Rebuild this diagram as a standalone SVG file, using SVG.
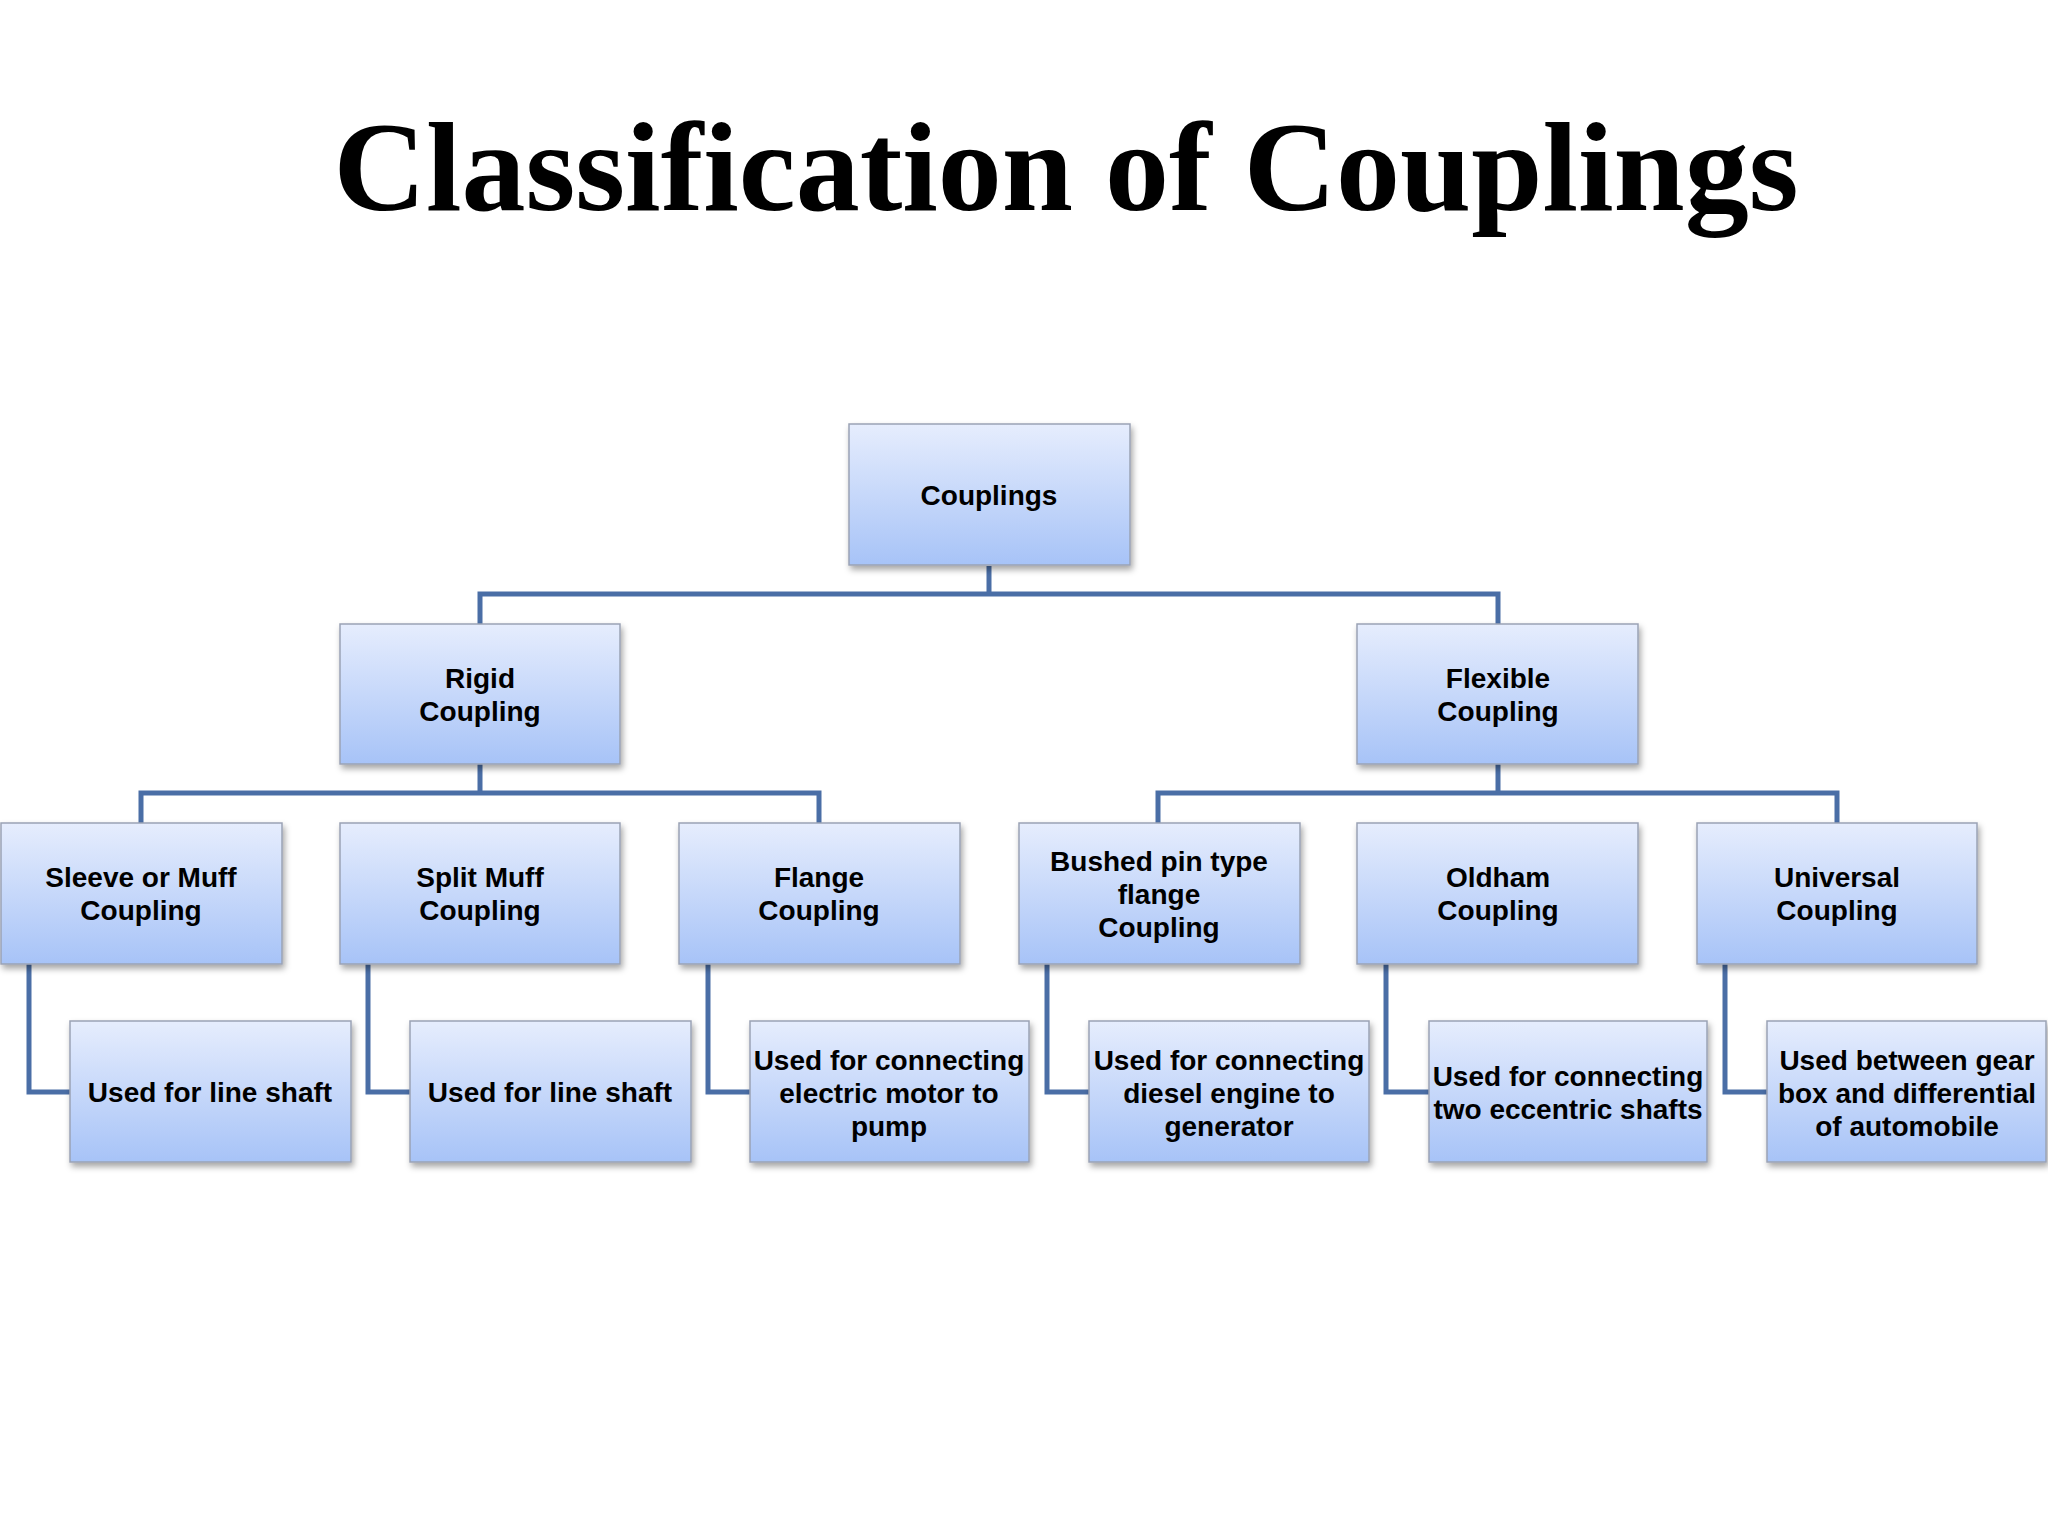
<svg xmlns="http://www.w3.org/2000/svg" width="2048" height="1536" viewBox="0 0 2048 1536">
<defs>
<linearGradient id="g" x1="0" y1="0" x2="0" y2="1"><stop offset="0" stop-color="#e6edfd"/><stop offset="1" stop-color="#a7c3f7"/></linearGradient>
<filter id="sh" x="-10%" y="-10%" width="130%" height="130%"><feDropShadow dx="2" dy="4" stdDeviation="3" flood-color="#000" flood-opacity="0.35"/></filter>
</defs>
<style>
rect.b{fill:url(#g);stroke:#9aa3b5;stroke-width:1.5;filter:url(#sh)}
text{font-family:"Liberation Sans",Arial,sans-serif;font-weight:bold;font-size:28px;fill:#000;text-anchor:middle}
.c{fill:none;stroke:#4a6ea6;stroke-width:5}
</style>
<rect width="2048" height="1536" fill="#fff"/>
<text x="1066" y="210" style="font-family:'Liberation Serif','Times New Roman',serif;font-size:128px">Classification of Couplings</text>
<g id="connectors">
<path class="c" d="M989 566V594M480 624V594H1498V624"/>
<path class="c" d="M480 764V793M141 823V793H819V823"/>
<path class="c" d="M1498 764V793M1158 823V793H1837V823"/>
<path class="c" d="M29 964V1092H70M368 964V1092H410M708 964V1092H750M1047 964V1092H1089M1386 964V1092H1429M1725 964V1092H1767"/>
</g>
<g id="n0"><rect class="b" x="849" y="424" width="281" height="141"/><text x="989" y="505">Couplings</text></g>
<g id="n1"><rect class="b" x="340" y="624" width="280" height="140"/><text x="480" y="688">Rigid</text><text x="480" y="721">Coupling</text></g>
<g id="n2"><rect class="b" x="1357" y="624" width="281" height="140"/><text x="1498" y="688">Flexible</text><text x="1498" y="721">Coupling</text></g>
<g id="n3"><rect class="b" x="1" y="823" width="281" height="141"/><text x="141" y="887">Sleeve or Muff</text><text x="141" y="920">Coupling</text></g>
<g id="n4"><rect class="b" x="340" y="823" width="280" height="141"/><text x="480" y="887">Split Muff</text><text x="480" y="920">Coupling</text></g>
<g id="n5"><rect class="b" x="679" y="823" width="281" height="141"/><text x="819" y="887">Flange</text><text x="819" y="920">Coupling</text></g>
<g id="n6"><rect class="b" x="1019" y="823" width="281" height="141"/><text x="1159" y="871">Bushed pin type</text><text x="1159" y="904">flange</text><text x="1159" y="937">Coupling</text></g>
<g id="n7"><rect class="b" x="1357" y="823" width="281" height="141"/><text x="1498" y="887">Oldham</text><text x="1498" y="920">Coupling</text></g>
<g id="n8"><rect class="b" x="1697" y="823" width="280" height="141"/><text x="1837" y="887">Universal</text><text x="1837" y="920">Coupling</text></g>
<g id="n9"><rect class="b" x="70" y="1021" width="281" height="141"/><text x="210" y="1102">Used for line shaft</text></g>
<g id="n10"><rect class="b" x="410" y="1021" width="281" height="141"/><text x="550" y="1102">Used for line shaft</text></g>
<g id="n11"><rect class="b" x="750" y="1021" width="279" height="141"/><text x="889" y="1070">Used for connecting</text><text x="889" y="1103">electric motor to</text><text x="889" y="1136">pump</text></g>
<g id="n12"><rect class="b" x="1089" y="1021" width="280" height="141"/><text x="1229" y="1070">Used for connecting</text><text x="1229" y="1103">diesel engine to</text><text x="1229" y="1136">generator</text></g>
<g id="n13"><rect class="b" x="1429" y="1021" width="278" height="141"/><text x="1568" y="1086">Used for connecting</text><text x="1568" y="1119">two eccentric shafts</text></g>
<g id="n14"><rect class="b" x="1767" y="1021" width="279" height="141"/><text x="1907" y="1070">Used between gear</text><text x="1907" y="1103">box and differential</text><text x="1907" y="1136">of automobile</text></g>
</svg>
